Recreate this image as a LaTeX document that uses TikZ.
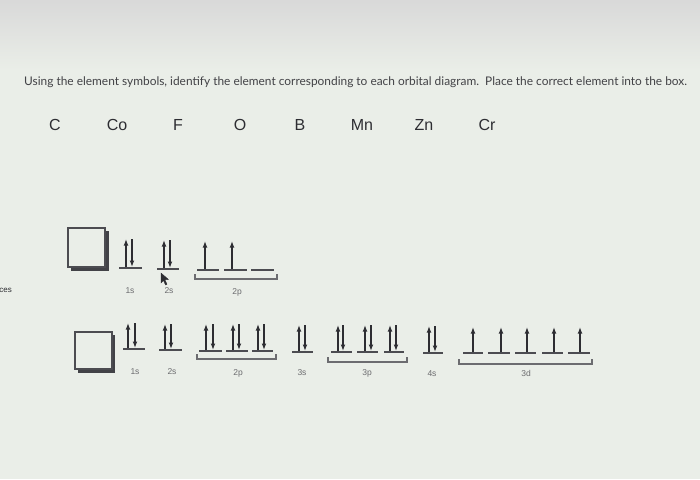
\documentclass[tikz,border=0pt]{standalone}
\usepackage{fontspec}
\setmainfont{Liberation Sans}
\newfontfamily\titlefont{Lato}
\usetikzlibrary{arrows.meta}
\definecolor{bg}{RGB}{234,238,232}
\definecolor{ink}{RGB}{45,45,50}
\tikzset{
  orb/.style={line width=1.4pt, draw=ink!85},
  spinup/.style={line width=1.3pt, draw=ink, -{Latex[length=6.5pt,width=4.8pt]}},
  spindown/.style={line width=1.3pt, draw=ink, -{Latex[length=6.5pt,width=4.8pt]}},
  brk/.style={line width=1.2pt, draw=ink!70},
  sublbl/.style={font=\fontsize{8.5}{9}\selectfont, text=ink!70, inner sep=0pt},
  elem/.style={font=\fontsize{16}{18}\selectfont, text=ink, inner sep=0pt},
  ansbox/.style={line width=1.4pt, draw=ink!85, fill=bg},
  shadowbox/.style={fill=ink!90, draw=none}
}
% pair of arrows on an orbital: x_up, x_down, y_line, y_top
\newcommand\spinpair[4]{%
  \draw[spinup] (#1,#3) -- (#1,#4);
  \draw[spindown] (#2,#4) -- (#2,#3);}
\newcommand\spinsingle[3]{%
  \draw[spinup] (#1,#2) -- (#1,#3);}
\newcommand\orbital[3]{\draw[orb] (#1,#3) -- (#2,#3);}
\newcommand\bracketline[3]{\draw[brk] (#1,#3-5) -- (#1,#3) -- (#2,#3) -- (#2,#3-5);}
\begin{document}
\begin{tikzpicture}[x=1pt,y=-1pt]
\fill[bg] (0,0) rectangle (700,479);
\fill[top color=black!15, bottom color=bg, draw=none] (0,0) rectangle (700,70);
\useasboundingbox (0,0) rectangle (700,479);

\node[anchor=west, inner sep=0pt, text=ink!90, font=\titlefont\fontsize{11.9}{13}\selectfont] (title) at (24,82)
  {Using the element symbols, identify the element corresponding to each orbital diagram.\ \ Place the correct element into the box.};

\node[elem] (eC)  at (55,125) {C};
\node[elem] (eCo) at (117,125) {Co};
\node[elem] (eF)  at (178,125) {F};
\node[elem] (eO)  at (240,125) {O};
\node[elem] (eB)  at (300,125) {B};
\node[elem] (eMn) at (362,125) {Mn};
\node[elem] (eZn) at (424,125) {Zn};
\node[elem] (eCr) at (487,125) {Cr};

\node[anchor=east, inner sep=0pt, text=ink, font=\fontsize{8}{9}\selectfont] (cut) at (12,290) {ces};

% ---- first diagram ----
\fill[shadowbox] (71,231) rectangle (109,271);
\draw[ansbox] (68,228) rectangle (105,267);
\orbital{119}{142}{268}
\spinpair{126}{132}{267}{239}
\orbital{157}{179}{269}
\spinpair{164}{170}{268}{240}
\orbital{197}{219}{270}
\orbital{224}{247}{270}
\orbital{251}{274}{270}
\spinsingle{205}{269}{241}
\spinsingle{232}{269}{241}
\bracketline{195}{277}{279}
\node[sublbl] (l1s) at (130,291) {1s};
\node[sublbl] (l2s) at (169,291) {2s};
\node[sublbl] (l2p) at (237,292) {2p};
% mouse cursor
\filldraw[ink, line width=0.3pt] (161,273) -- (161,283) -- (163.5,280.5) -- (165.5,285) -- (167,284.3) -- (165,279.8) -- (168.5,279.5) -- cycle;

% ---- second diagram ----
\fill[shadowbox] (78,335) rectangle (115,373);
\draw[ansbox] (75,332) rectangle (112,369);
\orbital{123}{145}{349}
\spinpair{128}{135}{348}{323}
\orbital{159}{182}{350}
\spinpair{165}{171}{349}{324}
\orbital{199}{222}{351}
\orbital{226}{248}{351}
\orbital{252}{273}{351}
\spinpair{206}{213}{350}{324}
\spinpair{233}{239}{350}{324}
\spinpair{258}{264}{350}{324}
\bracketline{197}{276}{359}
\orbital{292}{313}{352}
\spinpair{299}{305}{351}{325}
\orbital{331}{352}{352}
\orbital{357}{378}{352}
\orbital{384}{404}{352}
\spinpair{338}{343}{351}{325}
\spinpair{365}{371}{351}{325}
\spinpair{390}{396}{351}{325}
\bracketline{328}{407}{362}
\orbital{423}{443}{353}
\spinpair{429}{435}{352}{326}
\orbital{463}{483}{353}
\orbital{488}{510}{353}
\orbital{515}{536}{353}
\orbital{542}{563}{353}
\orbital{568}{590}{353}
\spinsingle{473}{352}{327}
\spinsingle{501}{352}{327}
\spinsingle{527}{352}{327}
\spinsingle{554}{352}{327}
\spinsingle{580}{352}{327}
\bracketline{459}{592}{364}
\node[sublbl] (m1s) at (135,372) {1s};
\node[sublbl] (m2s) at (172,372) {2s};
\node[sublbl] (m2p) at (238,373) {2p};
\node[sublbl] (m3s) at (302,373) {3s};
\node[sublbl] (m3p) at (367,373) {3p};
\node[sublbl] (m4s) at (432,374) {4s};
\node[sublbl] (m3d) at (526,373) {3d};
\end{tikzpicture}
\end{document}
